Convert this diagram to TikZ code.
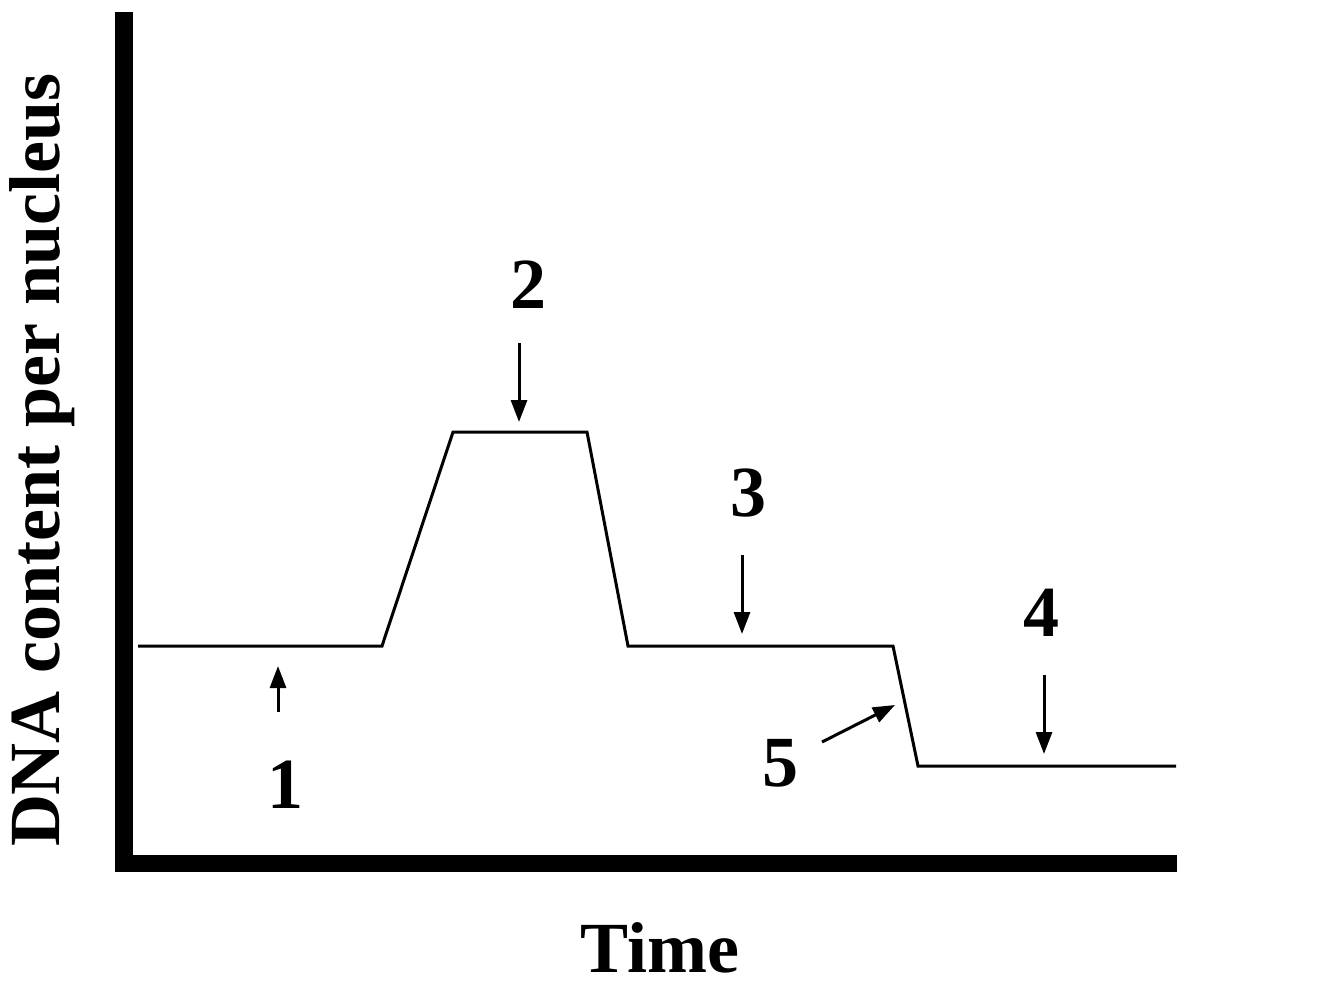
\documentclass[tikz,border=0pt]{standalone}
\usepackage{fontspec}
\setmainfont{Liberation Serif}
\usetikzlibrary{arrows.meta}
\begin{document}
\begin{tikzpicture}[x=1pt,y=-1pt,
  lbl/.style={font=\fontsize{72}{80}\selectfont\bfseries},
  arr/.style={line width=3pt,-{Triangle[length=22pt,width=16pt]}}]
\useasboundingbox (0,0) rectangle (1338,996);
\fill[white] (0,0) rectangle (1338,996);
\fill[black] (115,12) rectangle (133,872);
\fill[black] (115,855) rectangle (1177,872);
\draw[line width=3pt,line join=miter] (138,646) -- (382,646) -- (453,432) -- (587,432) -- (628,646) -- (893,646) -- (918,766) -- (1176,766);
\node[lbl] (t1) at (285,785) {1};
\node[lbl] (t2) at (528,285) {2};
\node[lbl] (t3) at (748,493) {3};
\node[lbl] (t4) at (1041,613) {4};
\node[lbl] (t5) at (780,763) {5};
\coordinate (a1s) at (278,712); \coordinate (a1e) at (278,666);
\coordinate (a2s) at (519,343); \coordinate (a2e) at (519,422);
\coordinate (a3s) at (742,555); \coordinate (a3e) at (742,634);
\coordinate (a4s) at (1044,675); \coordinate (a4e) at (1044,754);
\coordinate (a5s) at (822,742); \coordinate (a5e) at (895,705);
\draw[arr] (a1s) -- (a1e);
\draw[arr] (a2s) -- (a2e);
\draw[arr] (a3s) -- (a3e);
\draw[arr] (a4s) -- (a4e);
\draw[arr] (a5s) -- (a5e);
\node[lbl] (time) at (660,948) {Time};
\node[lbl,rotate=90] (ylab) at (42,460) {DNA content per nucleus};
\end{tikzpicture}
\end{document}
